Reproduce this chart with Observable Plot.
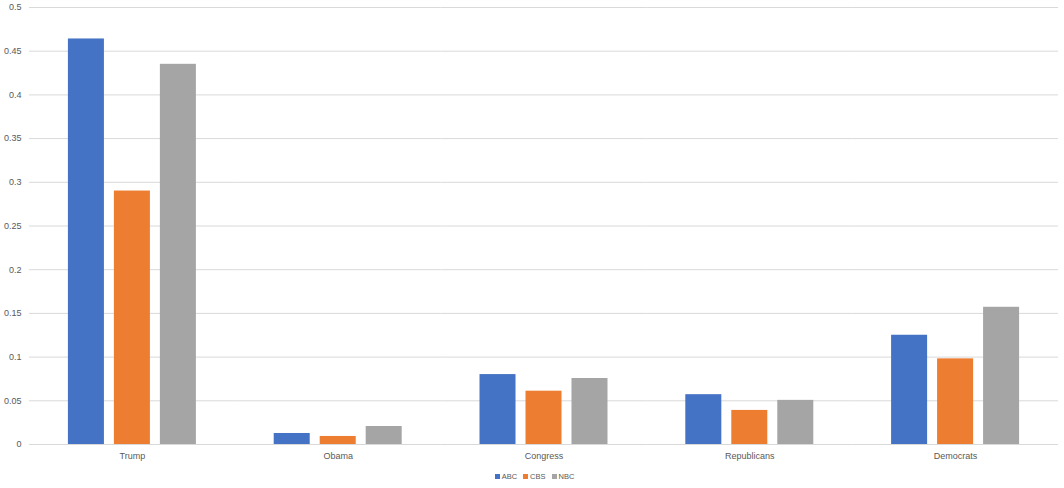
<!DOCTYPE html>
<html>
<head>
<meta charset="utf-8">
<script src="https://cdn.jsdelivr.net/npm/d3@7"></script>
<script src="https://cdn.jsdelivr.net/npm/@observablehq/plot@0.6"></script>
<style>
  html, body { margin: 0; padding: 0; background: #fff; }
  #chart { width: 1064px; }
  .legend { display: flex; justify-content: center; gap: 6px; width: 1064px; padding-left: 5px; box-sizing: border-box;
            font: 7.5px "Liberation Sans", "DejaVu Sans", sans-serif; color: #595959; margin-top: 8px; }
  .legend span.item { display: flex; align-items: center; gap: 2px; }
  .legend i { display: inline-block; width: 5px; height: 5px; }
</style>
</head>
<body>
<div id="chart"></div>
<script>
const categories = ["Trump", "Obama", "Congress", "Republicans", "Democrats"];
const networks = ["ABC", "CBS", "NBC"];
const colors = ["#4472C4", "#ED7D31", "#A5A5A5"];
const abc = [0.464, 0.0126, 0.080, 0.057, 0.125];
const cbs = [0.290, 0.0092, 0.061, 0.039, 0.098];
const nbc = [0.435, 0.0206, 0.0755, 0.0505, 0.157];
const yTicks = [0, 0.05, 0.1, 0.15, 0.2, 0.25, 0.3, 0.35, 0.4, 0.45, 0.5];

const series = [abc, cbs, nbc];
const data = [];
categories.forEach((c, i) => networks.forEach((n, j) => data.push({category: c, network: n, value: series[j][i]})));

const chart = Plot.plot({
  width: 1064,
  height: 464,
  marginLeft: 29,
  marginRight: 6,
  marginTop: 7,
  marginBottom: 20,
  style: {fontFamily: "'Liberation Sans', 'DejaVu Sans', sans-serif", fontSize: "9px", color: "#595959"},
  fx: {domain: categories, padding: 0, round: false, label: null, axis: "bottom", tickSize: 0, tickPadding: 8},
  x: {domain: networks, axis: null, round: false, paddingInner: 0.217, paddingOuter: 0.846},
  y: {domain: [0, 0.5], ticks: yTicks, tickSize: 0, tickPadding: 8, label: null, tickFormat: d => d3.format("")(+d.toFixed(2))},
  color: {domain: networks, range: colors},
  marks: [
    Plot.ruleY(yTicks, {stroke: "#d9d9d9", strokeWidth: 1}),
    Plot.barY(data, {fx: "category", x: "network", y: "value", fill: "network"})
  ]
});
document.getElementById("chart").appendChild(chart);

const legend = document.createElement("div");
legend.className = "legend";
networks.forEach((n, j) => {
  const item = document.createElement("span");
  item.className = "item";
  const sw = document.createElement("i");
  sw.style.background = colors[j];
  item.appendChild(sw);
  item.appendChild(document.createTextNode(n));
  legend.appendChild(item);
});
document.body.appendChild(legend);
</script>
</body>
</html>
